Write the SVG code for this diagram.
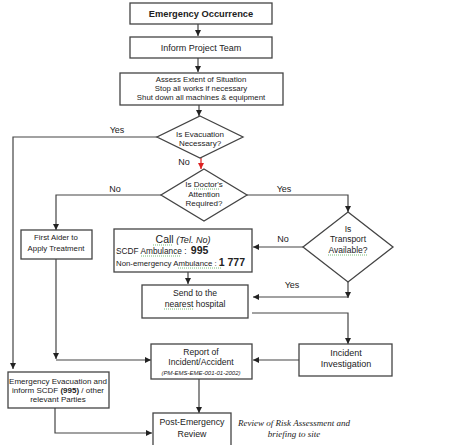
<svg xmlns="http://www.w3.org/2000/svg" width="474" height="445" viewBox="0 0 474 445">
<defs>
<marker id="ah" viewBox="0 0 8 8" refX="8" refY="4" markerWidth="6" markerHeight="6" orient="auto" markerUnits="userSpaceOnUse">
<path d="M0,0 L8,4 L0,8 z" fill="#222"/>
</marker>
<marker id="ahr" viewBox="0 0 8 8" refX="8" refY="4" markerWidth="6" markerHeight="6" orient="auto" markerUnits="userSpaceOnUse">
<path d="M0,0 L8,4 L0,8 z" fill="#d22"/>
</marker>
</defs>
<style>
.b{fill:#fff;stroke:#444;stroke-width:1.3}
text{font-family:"Liberation Sans",Arial,sans-serif;fill:#222}
.m{text-anchor:middle}
.s{text-anchor:start}
.f8{font-size:8px}
.f9{font-size:9px}
.c{fill:none;stroke:#444;stroke-width:1.2}
.sq{stroke:#5a5;stroke-width:0.8;stroke-dasharray:1 1;fill:none}
.n{font-family:"Liberation Serif","Times New Roman",serif;font-style:italic;font-size:9px;text-anchor:middle}
</style>
<rect width="474" height="445" fill="#fff"/>
<g id="connectors">
<line class="c" x1="198" y1="24" x2="198" y2="36" marker-end="url(#ah)"/>
<line class="c" x1="198" y1="58" x2="198" y2="72" marker-end="url(#ah)"/>
<line class="c" x1="199" y1="105" x2="199" y2="116" marker-end="url(#ah)"/>
<polyline class="c" points="157,137 13,137 13,369" marker-end="url(#ah)"/>
<line x1="201" y1="158" x2="201" y2="169" stroke="#d22" stroke-width="1.2" marker-end="url(#ahr)"/>
<polyline class="c" points="161,195 56,195 56,230" marker-end="url(#ah)"/>
<polyline class="c" points="247,195 348,195 348,212" marker-end="url(#ah)"/>
<line class="c" x1="303" y1="247" x2="253" y2="247" marker-end="url(#ah)"/>
<line class="c" x1="188" y1="272" x2="188" y2="284" marker-end="url(#ah)"/>
<line class="c" x1="348" y1="282" x2="348" y2="298" marker-end="url(#ah)"/>
<line class="c" x1="348" y1="297" x2="253" y2="297" marker-end="url(#ah)"/>
<polyline class="c" points="252,313 348,313 348,344" marker-end="url(#ah)"/>
<line class="c" x1="299" y1="360" x2="253" y2="360" marker-end="url(#ah)"/>
<line class="c" x1="56" y1="259" x2="56" y2="359" marker-end="url(#ah)"/>
<line class="c" x1="56" y1="360" x2="151" y2="360" marker-end="url(#ah)"/>
<line class="c" x1="199" y1="379" x2="199" y2="413" marker-end="url(#ah)"/>
<polyline class="c" points="55,408 55,433 152,433" marker-end="url(#ah)"/>
<text class="m f9" x="117" y="133">Yes</text>
<text class="m f9" x="184" y="165">No</text>
<text class="m f9" x="115" y="192">No</text>
<text class="m f9" x="284" y="192">Yes</text>
<text class="m f9" x="283" y="242">No</text>
<text class="m f9" x="292" y="288">Yes</text>
</g>
<g id="n1"><rect class="b" x="130" y="3" width="142" height="21"/><text class="m" x="201" y="17" font-weight="bold" font-size="9.3">Emergency Occurrence</text></g>
<g id="n2"><rect class="b" x="130" y="37" width="142" height="21"/><text class="m f9" x="201" y="51">Inform Project Team</text></g>
<g id="n3"><rect class="b" x="120" y="73" width="163" height="32"/>
<text class="m" font-size="7.8" x="201" y="82">Assess Extent of Situation</text>
<text class="m" font-size="7.8" x="201" y="91">Stop all works if necessary</text>
<text class="m" font-size="7.8" x="201" y="100">Shut down all machines &amp; equipment</text></g>
<g id="d1"><polygon class="b" points="200,116 243,137 200,158 157,137"/>
<text class="m f8" x="200" y="137">Is Evacuation</text>
<text class="m f8" x="200" y="146">Necessary?</text></g>
<g id="d2"><polygon class="b" points="204,169 247,195 204,221 161,195"/>
<text class="m f8" x="204" y="187">Is Doctor's</text>
<text class="m f8" x="204" y="197">Attention</text>
<text class="m f8" x="204" y="206">Required?</text>
<line class="sq" x1="194" y1="189" x2="220" y2="189"/></g>
<g id="d3"><polygon class="b" points="348,212 393,247 348,282 303,247"/>
<text class="m" font-size="8.5" x="348" y="232">Is</text>
<text class="m" font-size="8.5" x="348" y="242">Transport</text>
<text class="m" font-size="8.5" x="348" y="253">Available?</text>
<line class="sq" x1="328" y1="255" x2="368" y2="255"/></g>
<g id="n4"><rect class="b" x="21" y="230" width="71" height="29"/>
<text class="m" font-size="7.8" x="56" y="240">First Aider to</text>
<text class="m" font-size="7.8" x="56" y="251">Apply Treatment</text></g>
<g id="n5"><rect class="b" x="114" y="229" width="138" height="43"/>
<text class="m f9" x="183" y="243"><tspan font-size="10.5">Call</tspan> <tspan font-style="italic">(Tel. No)</tspan></text>
<line class="sq" x1="153" y1="245" x2="172" y2="245"/>
<text class="s" font-size="8.3" x="116" y="254">SCDF Ambulance : <tspan font-size="10.5" font-weight="bold" dx="2">995</tspan></text>
<line class="sq" x1="141" y1="256" x2="180" y2="256"/>
<text class="s" font-size="7.8" x="116" y="266">Non-emergency Ambulance : <tspan font-size="10.5" font-weight="bold">1 777</tspan></text>
<line class="sq" x1="178" y1="268" x2="221" y2="268"/></g>
<g id="n6"><rect class="b" x="142" y="285" width="106" height="33"/>
<text class="m" font-size="8.6" x="195" y="296">Send to the</text>
<text class="m" font-size="8.6" x="195" y="307">nearest hospital</text>
<line class="sq" x1="164" y1="309" x2="193" y2="309"/></g>
<g id="n7"><rect class="b" x="299" y="344" width="93" height="32"/>
<text class="m f9" x="346" y="356">Incident</text>
<text class="m f9" x="346" y="367">Investigation</text></g>
<g id="n8"><rect class="b" x="151" y="344" width="101" height="35"/>
<text class="m" font-size="8.6" x="201" y="355">Report of</text>
<text class="m" font-size="8.6" x="201" y="365">Incident/Accident</text>
<text class="m" x="201" y="375" font-size="6" font-style="italic">(PM-EMS-EME-001-01-2002)</text></g>
<g id="n9"><rect class="b" x="8" y="372" width="101" height="36"/>
<text class="m f8" x="58" y="384">Emergency Evacuation and</text>
<text class="m f8" x="58" y="393">inform SCDF <tspan font-weight="bold">(995)</tspan> / other</text>
<text class="m f8" x="58" y="402">relevant Parties</text></g>
<g id="n10"><rect class="b" x="153" y="413" width="78" height="34"/>
<text class="m" font-size="8.8" x="192" y="425">Post-Emergency</text>
<text class="m" font-size="8.8" x="192" y="437">Review</text></g>
<text class="n" x="294" y="426">Review of Risk Assessment and</text>
<text class="n" x="294" y="437">briefing to site</text>
</svg>
